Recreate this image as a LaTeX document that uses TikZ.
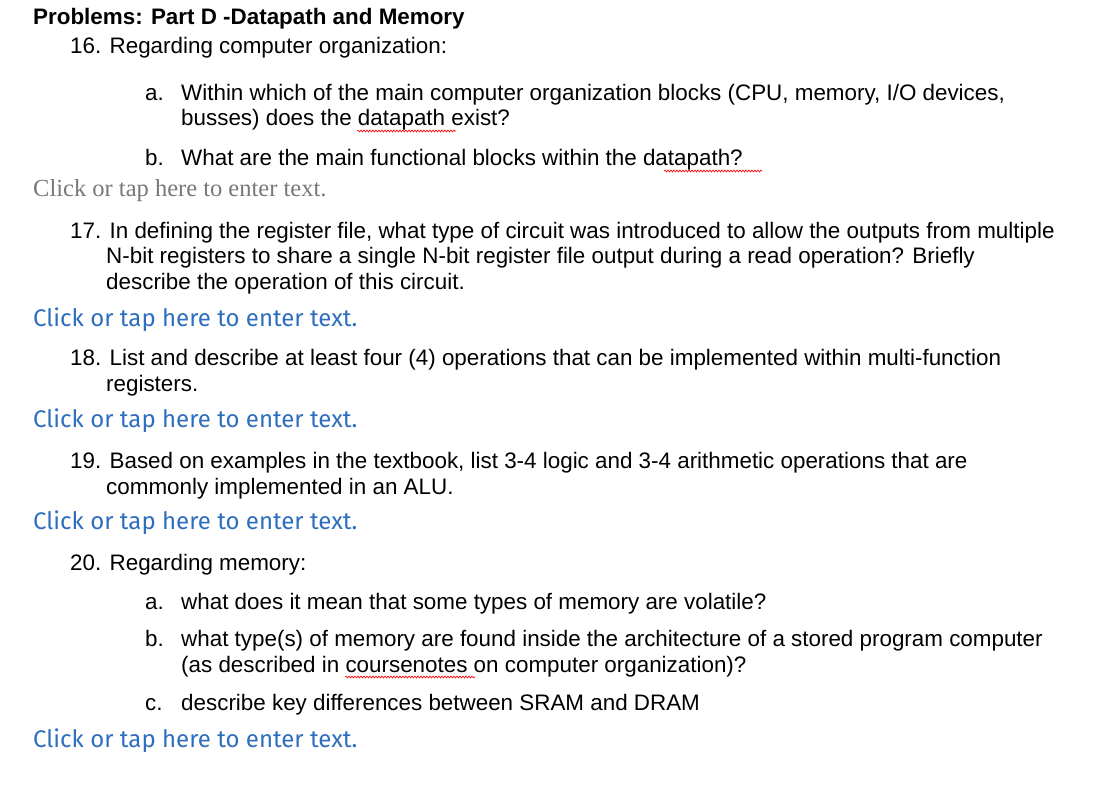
\documentclass[tikz,border=0pt]{standalone}
\usepackage{fontspec}
\setmainfont{Liberation Sans}
\newfontfamily\clickserif{Liberation Serif}
\newfontfamily\clicksans{Fira Sans}
\usetikzlibrary{decorations.pathmorphing}
\definecolor{clickblue}{RGB}{46,110,190}
\definecolor{clickgray}{RGB}{120,120,120}
\begin{document}
\begin{tikzpicture}[x=1pt,y=-1pt,
  t/.style={anchor=base west,inner sep=0pt,font=\fontsize{22.4}{24}\selectfont},
  bt/.style={t,font=\fontsize{22.4}{24}\selectfont\bfseries},
  cb/.style={anchor=base west,inner sep=0pt,text=clickblue,font=\fontsize{24}{24}\clicksans},
  cg/.style={anchor=base west,inner sep=0pt,text=clickgray,font=\fontsize{24.5}{24}\clickserif},
  wave/.style={red,line width=0.6pt,decorate,decoration={snake,amplitude=1pt,segment length=3pt}}]
\useasboundingbox (0,0) rectangle (1096,799);
\node[bt] (title) at (33,25) {Problems: Part D -Datapath and Memory};
\node[t] (q16) at (70,54) {16. Regarding computer organization:};
\node[t] (q16a) at (145,101) {a.};
\node[t] (q16a1) at (181,101) {Within which of the main computer organization blocks (CPU, memory, I/O devices,};
\node[t] (q16a2) at (181,126) {busses) does the datapath exist?};
\node[t] (q16b) at (145,166) {b.};
\node[t] (q16b1) at (181,166) {What are the main functional blocks within the datapath?};
\node[cg] (c1) at (33,197) {Click or tap here to enter text.};
\node[t] (q17) at (70,239) {17. In defining the register file, what type of circuit was introduced to allow the outputs from multiple};
\node[t] (q17b) at (106,264) {N-bit registers to share a single N-bit register file output during a read operation? Briefly};
\node[t] (q17c) at (106,290) {describe the operation of this circuit.};
\node[cb] (c2) at (33,327) {Click or tap here to enter text.};
\node[t] (q18) at (70,366) {18. List and describe at least four (4) operations that can be implemented within multi-function};
\node[t] (q18b) at (106,392) {registers.};
\node[cb] (c3) at (33,428) {Click or tap here to enter text.};
\node[t] (q19) at (70,469) {19. Based on examples in the textbook, list 3-4 logic and 3-4 arithmetic operations that are};
\node[t] (q19b) at (106,495) {commonly implemented in an ALU.};
\node[cb] (c4) at (33,530) {Click or tap here to enter text.};
\node[t] (q20) at (70,571) {20. Regarding memory:};
\node[t] (q20a) at (145,609) {a.};
\node[t] (q20a1) at (181,609) {what does it mean that some types of memory are volatile?};
\node[t] (q20b) at (145,646) {b.};
\node[t] (q20b1) at (181,646) {what type(s) of memory are found inside the architecture of a stored program computer};
\node[t] (q20b2) at (181,672) {(as described in coursenotes on computer organization)?};
\node[t] (q20c) at (145,710) {c.};
\node[t] (q20c1) at (181,710) {describe key differences between SRAM and DRAM};
\node[cb] (c5) at (33,747) {Click or tap here to enter text.};
\coordinate (w1a) at (357,131); \coordinate (w1b) at (456,131);
\coordinate (w2a) at (664,171); \coordinate (w2b) at (762,171);
\coordinate (w3a) at (345,677); \coordinate (w3b) at (475,677);
\draw[wave] (w1a) -- (w1b);
\draw[wave] (w2a) -- (w2b);
\draw[wave] (w3a) -- (w3b);
\end{tikzpicture}
\end{document}
